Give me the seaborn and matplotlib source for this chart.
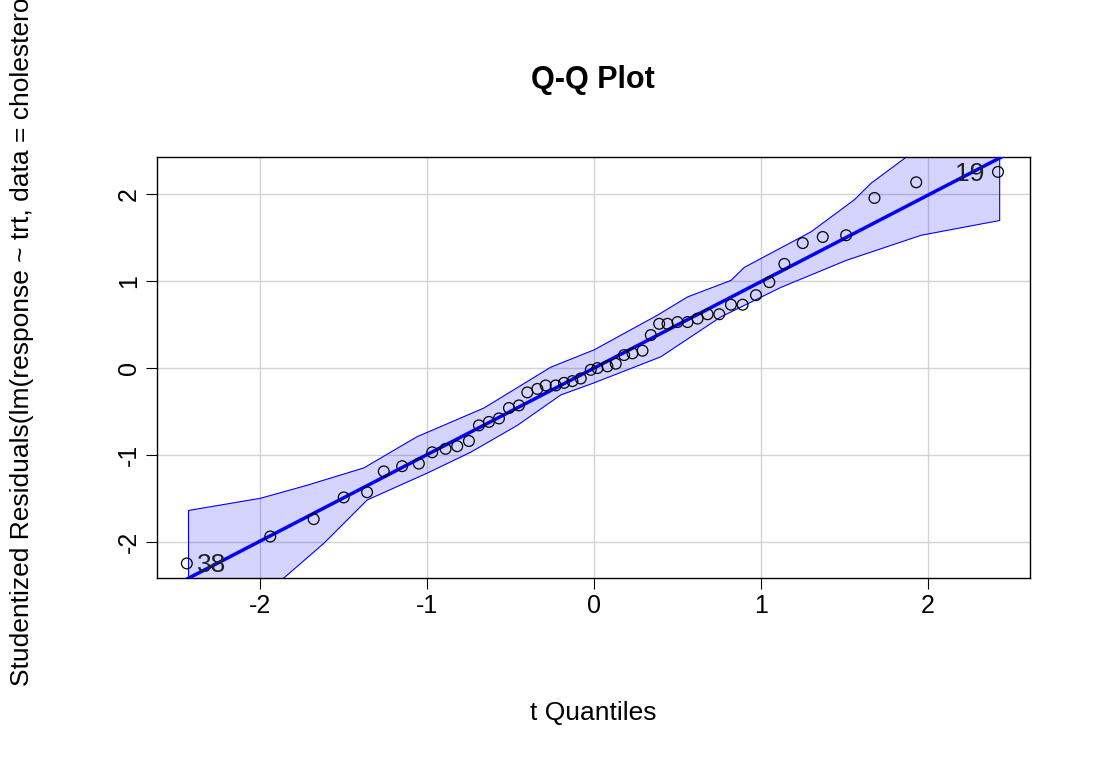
import numpy as np
import pandas as pd
import matplotlib
matplotlib.use("Agg")
import matplotlib.pyplot as plt
import seaborn as sns

t_quant = [-2.44,-1.94,-1.68,-1.50,-1.36,-1.26,-1.15,-1.05,-0.97,-0.89,-0.82,-0.75,-0.69,-0.63,-0.57,-0.51,-0.45,-0.40,-0.34,-0.29,
           -0.23,-0.18,-0.13,-0.08,-0.02,0.02,0.08,0.13,0.18,0.23,0.29,0.34,0.39,0.44,0.50,0.56,0.62,0.68,0.75,0.82,
           0.89,0.97,1.05,1.14,1.25,1.37,1.51,1.68,1.93,2.42]
resid = [-2.25,-1.94,-1.74,-1.49,-1.43,-1.19,-1.13,-1.10,-0.97,-0.93,-0.90,-0.84,-0.66,-0.62,-0.58,-0.46,-0.43,-0.28,-0.24,-0.20,
         -0.20,-0.17,-0.15,-0.12,-0.02,0.0,0.02,0.05,0.15,0.17,0.20,0.38,0.51,0.51,0.53,0.53,0.57,0.62,0.62,0.73,
         0.73,0.84,0.99,1.20,1.44,1.51,1.53,1.96,2.14,2.26]
up_x = [-2.43,-2.0,-1.72,-1.38,-1.06,-0.66,-0.26,0,0.38,0.56,0.82,0.90,1.30,1.56,1.66,1.87,2.43]
up_y = [-1.64,-1.50,-1.35,-1.15,-0.79,-0.46,0.01,0.21,0.61,0.82,1.01,1.16,1.57,1.94,2.13,2.43,2.97]
lo_x = [-2.43,-1.86,-1.62,-1.36,-1.0,-0.74,-0.46,-0.20,0,0.40,0.76,1.12,1.51,1.96,2.43]
lo_y = [-2.79,-2.42,-2.02,-1.52,-1.21,-0.97,-0.66,-0.31,-0.17,0.13,0.59,0.93,1.24,1.53,1.70]
line_x = [-2.44, 2.46]
line_y = [-2.43, 2.45]

sns.set_style("white")
plt.rcParams['font.family'] = ['Liberation Sans', 'DejaVu Sans']
plt.rcParams['axes.unicode_minus'] = False
plt.rcParams['text.color'] = 'black'
fig = plt.figure(figsize=(11.12, 7.74), dpi=100)
ax = fig.add_axes([0.141, 0.253, 0.785, 0.544])

poly_x = up_x + lo_x[::-1]
poly_y = up_y + lo_y[::-1]
ax.fill(poly_x, poly_y, facecolor=(0, 0, 1, 0.17), edgecolor='blue', linewidth=0.8, zorder=2)
sns.lineplot(x=line_x, y=line_y, color='blue', linewidth=2.5, ax=ax, zorder=3)
sns.scatterplot(x=t_quant, y=resid, facecolor='none', edgecolor='black', s=60, linewidth=0.9, ax=ax, zorder=4)
ax.text(2.34, 2.24, "19", ha='right', va='center', fontsize=19, color='#222222')
ax.text(-2.38, -2.27, "38", ha='left', va='center', fontsize=19, color='#222222')

ax.set_xlim(-2.62, 2.61)
ax.set_ylim(-2.42, 2.43)
ax.set_xticks([-2, -1, 0, 1, 2])
ax.set_yticks([-2, -1, 0, 1, 2])
ax.grid(True, color='#d3d3d3', linewidth=1)
ax.set_axisbelow(True)
for s in ax.spines.values():
    s.set_color('black'); s.set_linewidth(1)
ax.tick_params(axis='both', labelsize=18, length=8, color='black', labelcolor='black',
               direction='out', bottom=True, left=True)
for lab in ax.get_yticklabels():
    lab.set_rotation(90); lab.set_va('center')
ax.set_title("Q-Q Plot", fontsize=22, fontweight='bold', y=1, pad=0)
ax.title.set_position((0.5, 1.0))
fig.text(0.5 * (0.141 + 0.926), 1 - 80 / 774, "Q-Q Plot", ha='center', va='center',
         fontsize=22, fontweight='bold')
ax.set_title("")
fig.text(0.5 * (0.141 + 0.926), 1 - 713 / 774, "t Quantiles", ha='center', va='center', fontsize=19)
fig.text(22 / 1112, 1 - 330 / 774, "Studentized Residuals(lm(response ~ trt, data = cholesterol))",
         rotation=90, ha='center', va='center', fontsize=19)
fig.savefig("out.png", dpi=100)
